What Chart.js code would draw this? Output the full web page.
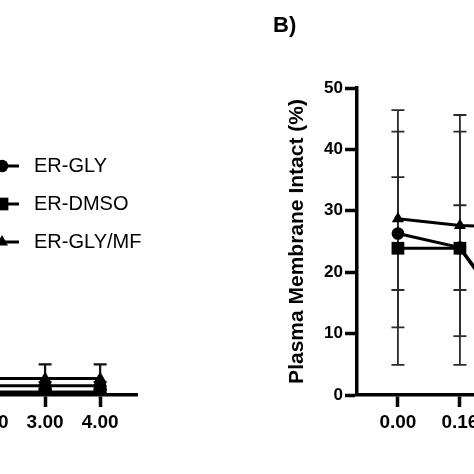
<!DOCTYPE html>
<html>
<head>
<meta charset="utf-8">
<script src="https://cdn.jsdelivr.net/npm/chart.js@4.4.1/dist/chart.umd.min.js"></script>
<style>
  html, body { margin: 0; padding: 0; background: #fff; }
  #wrap { position: relative; width: 474px; height: 474px; overflow: hidden; background: #fff; }
  #chartA { position: absolute; left: -420px; top: 0; }
  #chartB { position: absolute; left: 273px; top: 0; }
</style>
</head>
<body>
<div id="wrap">
  <canvas id="chartA" width="620" height="474"></canvas>
  <canvas id="chartB" width="640" height="474"></canvas>
</div>
<script>
// time points (x axis) and series names
const timeLabels = ['0.00', '0.16', '0.33', '0.50', '1.00', '2.00', '3.00', '4.00'];
const seriesNames = ['ER-GLY', 'ER-DMSO', 'ER-GLY/MF'];

// panel A - only its right end is in the picture
const aGly = [null, null, null, null, null, 1.5, 1.5, 1.5];
const aDmso = [null, null, null, null, null, 0.5, 0.5, 0.5];
const aGlyMf = [null, null, null, null, null, 2.7, 2.7, 2.7];
const aGlySd = [null, null, null, null, null, 0.6, 0.6, 0.6];
const aDmsoSd = [null, null, null, null, null, 0.4, 0.4, 0.4];
const aGlyMfSd = [null, null, null, null, null, 2.3, 2.3, 2.3];

// panel B - plasma membrane intact (%)
const bGly = [26.3, 24.0, 10.5, null, null, null, null, null];
const bDmso = [23.9, 23.9, 10.0, null, null, null, null, null];
const bGlyMf = [28.7, 27.6, 27.3, null, null, null, null, null];
const bGlySd = [9.2, 6.9, null, null, null, null, null, null];
const bDmsoSd = [19.0, 19.0, null, null, null, null, null, null];
const bGlyMfSd = [17.7, 18.0, null, null, null, null, null, null];

const FONT = '"Liberation Sans", Arial, sans-serif';
const styles = [
  { pointStyle: 'circle', pointRadius: 6.3 },
  { pointStyle: 'rect', pointRadius: 9 },
  { pointStyle: 'triangle', pointRadius: 7 }
];

function makeDatasets(values, sds) {
  return values.map((vals, k) => ({
    label: seriesNames[k],
    data: vals.map((v, i) => ({ x: i, y: v })),
    sd: sds[k],
    borderColor: '#000',
    backgroundColor: '#000',
    borderWidth: 3,
    pointStyle: styles[k].pointStyle,
    pointRadius: styles[k].pointRadius,
    pointBorderWidth: 0,
    tension: 0
  }));
}

// vertical error bars with caps, drawn behind the lines
const errorBars = {
  id: 'errorBars',
  beforeDatasetsDraw(chart, args, opts) {
    const { ctx, scales: { x, y } } = chart;
    ctx.save();
    ctx.strokeStyle = opts.color || '#222';
    ctx.lineWidth = opts.width || 1.8;
    const cap = opts.cap || 6.5;
    chart.data.datasets.forEach((ds) => {
      (ds.sd || []).forEach((sd, i) => {
        const v = ds.data[i].y;
        if (sd == null || v == null) return;
        const px = x.getPixelForValue(i);
        const top = y.getPixelForValue(v + sd);
        const bot = y.getPixelForValue(Math.max(v - sd, 0));
        ctx.beginPath();
        ctx.moveTo(px, top); ctx.lineTo(px, bot);
        ctx.moveTo(px - cap, top); ctx.lineTo(px + cap, top);
        if (v - sd > 0) { ctx.moveTo(px - cap, bot); ctx.lineTo(px + cap, bot); }
        ctx.stroke();
      });
    });
    ctx.restore();
  }
};

// legend with a short line through each symbol
const sideLegend = {
  id: 'sideLegend',
  afterDraw(chart, args, opts) {
    if (!opts || !opts.show) return;
    const ctx = chart.ctx;
    chart.data.datasets.forEach((ds, i) => {
      const y = opts.y + i * opts.gap;
      ctx.save();
      ctx.strokeStyle = '#000';
      ctx.fillStyle = '#000';
      ctx.lineWidth = 3;
      ctx.beginPath();
      ctx.moveTo(opts.x - 17, y);
      ctx.lineTo(opts.x + 17, y);
      ctx.stroke();
      Chart.helpers.drawPoint(ctx, {
        pointStyle: ds.pointStyle, radius: ds.pointRadius, borderWidth: 0, rotation: 0
      }, opts.x, y);
      ctx.font = '20px ' + FONT;
      ctx.textBaseline = 'middle';
      ctx.textAlign = 'left';
      ctx.fillText(ds.label, opts.textX, y);
      ctx.restore();
    });
  }
};

function xAxis(min, max) {
  return {
    type: 'linear',
    min: min,
    max: max,
    afterBuildTicks: (s) => { s.ticks = timeLabels.map((_, i) => ({ value: i })); },
    afterFit: (s) => { s.height = 79; },
    border: { color: '#000', width: 3.5 },
    grid: { drawOnChartArea: false, drawTicks: true, tickLength: 12, tickWidth: 3.5, tickColor: '#000' },
    ticks: {
      autoSkip: false,
      maxRotation: 0,
      padding: 4,
      color: '#000',
      font: { family: FONT, size: 19, weight: 'bold' },
      callback: (v) => timeLabels[v]
    }
  };
}

function yAxis(width, withTitle) {
  return {
    min: 0,
    max: 50,
    afterFit: (s) => { s.width = width; },
    border: { color: '#000', width: 3.5 },
    grid: { drawOnChartArea: false, drawTicks: true, tickLength: 12, tickWidth: 3.5, tickColor: '#000' },
    ticks: {
      stepSize: 10,
      padding: 2,
      color: '#000',
      font: { family: FONT, size: 17, weight: 'bold' }
    },
    title: {
      display: withTitle,
      text: 'Plasma Membrane Intact (%)',
      color: '#000',
      font: { family: FONT, size: 21, weight: 'bold' },
      padding: { top: 11.4, bottom: 0 }
    }
  };
}

new Chart(document.getElementById('chartA'), {
  type: 'line',
  data: { datasets: makeDatasets([aGly, aDmso, aGlyMf], [aGlySd, aDmsoSd, aGlyMfSd]) },
  options: {
    responsive: false,
    animation: false,
    devicePixelRatio: 1,
    layout: { padding: { top: 88, right: 63, left: 10, bottom: 0 } },
    scales: { x: xAxis(-1.18, 7.67), y: yAxis(60, false) },
    plugins: {
      legend: { display: false },
      tooltip: { enabled: false },
      errorBars: { color: '#111', width: 2.2, cap: 6.5 },
      sideLegend: { show: true, x: 422, y: 166, gap: 38, textX: 454 }
    }
  },
  plugins: [errorBars, sideLegend]
});

new Chart(document.getElementById('chartB'), {
  type: 'line',
  data: { datasets: makeDatasets([bGly, bDmso, bGlyMf], [bGlySd, bDmsoSd, bGlyMfSd]) },
  options: {
    responsive: false,
    animation: false,
    devicePixelRatio: 1,
    layout: { padding: { top: 0, right: 20, left: 0, bottom: 0 } },
    scales: { x: xAxis(-0.66, 7.985), y: yAxis(84, true) },
    plugins: {
      legend: { display: false },
      tooltip: { enabled: false },
      title: {
        display: true,
        text: 'B)',
        align: 'start',
        color: '#000',
        font: { family: FONT, size: 22, weight: 'bold' },
        padding: { top: 13, bottom: 48.6 }
      },
      errorBars: { color: '#2b2b2b', width: 1.8, cap: 6.5 }
    }
  },
  plugins: [errorBars, sideLegend]
});
</script>
</body>
</html>
